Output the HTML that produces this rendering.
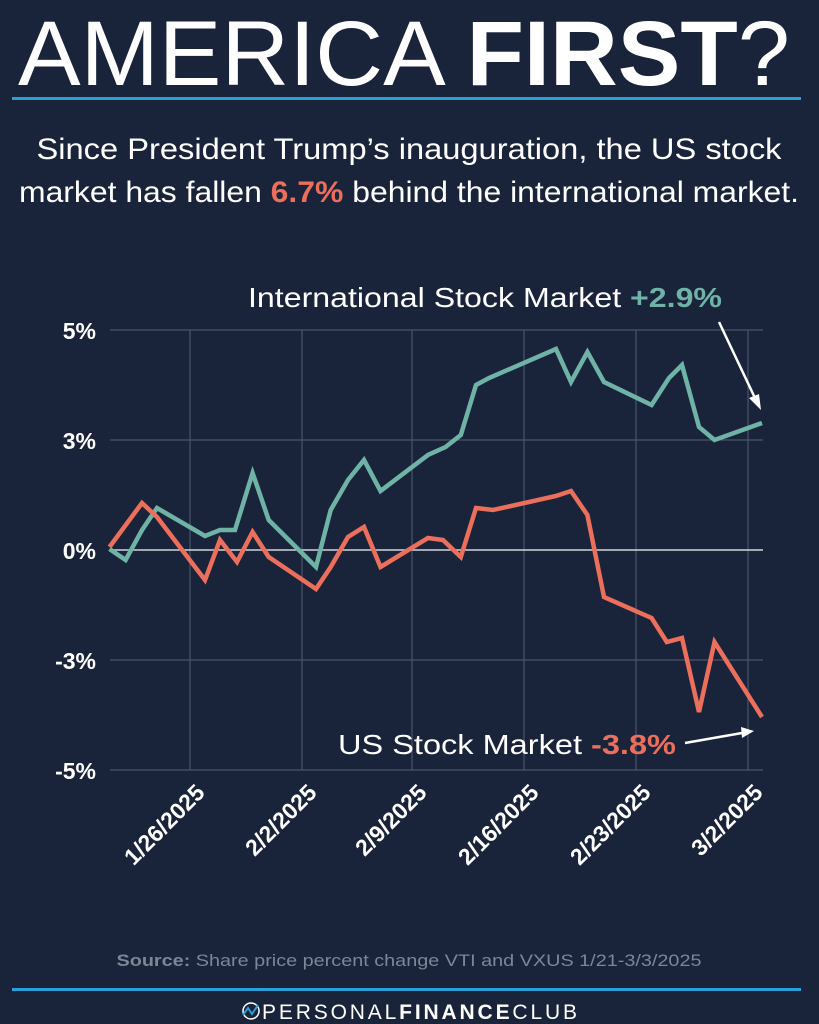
<!DOCTYPE html>
<html><head><meta charset="utf-8"><style>
html,body{margin:0;padding:0;background:#19233a;}
body{width:819px;height:1024px;overflow:hidden;position:relative;font-family:"Liberation Sans","DejaVu Sans",sans-serif;}
</style></head><body>
<svg width="819" height="1024" viewBox="0 0 819 1024" xmlns="http://www.w3.org/2000/svg" style="position:absolute;left:0;top:0">
<rect width="819" height="1024" fill="#19233a"/>
<text x="18" y="85" font-family="'Liberation Sans',sans-serif" font-size="92" fill="#fff" textLength="772" lengthAdjust="spacingAndGlyphs"><tspan style="font-weight:200">AMERICA </tspan><tspan font-weight="bold">FIRST</tspan><tspan>?</tspan></text>
<rect x="12" y="97" width="789" height="3" fill="#2d9fd8"/>
<text x="409" y="159" text-anchor="middle" font-size="30" fill="#fff" textLength="745" lengthAdjust="spacingAndGlyphs">Since President Trump’s inauguration, the US stock</text>
<text x="409" y="202" text-anchor="middle" font-size="30" fill="#fff" textLength="780" lengthAdjust="spacingAndGlyphs">market has fallen <tspan fill="#ec6f5c" font-weight="bold">6.7%</tspan> behind the international market.</text>

<g stroke="#4a5468" stroke-width="1.2">
<line x1="110" y1="330" x2="763" y2="330"/><line x1="110" y1="440" x2="763" y2="440"/>
<line x1="110" y1="660" x2="763" y2="660"/><line x1="110" y1="770" x2="763" y2="770"/>
<line x1="190" y1="330" x2="190" y2="770"/><line x1="302" y1="330" x2="302" y2="770"/>
<line x1="412" y1="330" x2="412" y2="770"/><line x1="524" y1="330" x2="524" y2="770"/>
<line x1="636" y1="330" x2="636" y2="770"/><line x1="748" y1="330" x2="748" y2="770"/>
</g>
<line x1="110" y1="550" x2="763" y2="550" stroke="#d0d4dc" stroke-width="1.5"/>
<g font-size="23" font-weight="bold" fill="#fff" text-anchor="end">
<text x="96" y="339">5%</text><text x="96" y="449">3%</text><text x="96" y="559">0%</text>
<text x="96" y="669">-3%</text><text x="96" y="779">-5%</text>
</g>
<g font-size="23" font-weight="bold" fill="#fff" text-anchor="end">
<text transform="translate(206,794) rotate(-45)">1/26/2025</text>
<text transform="translate(318,794) rotate(-45)">2/2/2025</text>
<text transform="translate(428,794) rotate(-45)">2/9/2025</text>
<text transform="translate(540,794) rotate(-45)">2/16/2025</text>
<text transform="translate(652,794) rotate(-45)">2/23/2025</text>
<text transform="translate(764,794) rotate(-45)">3/2/2025</text>
</g>
<polyline fill="none" stroke="#6fb3a6" stroke-width="4.5" points="109.5,549 125.6,560 142,530 157,508 205,536 220,530 235,530 252.6,473 268.7,520 316,567 330.7,510 348,480 364,460 380.5,491 428,455 445.6,447 460.8,435 476,385 489,378 556,349 571,382 587.4,352 604,382 651.6,405 669,378 682,365 699,427 714.5,440 762,423"/>
<polyline fill="none" stroke="#ec6f5c" stroke-width="4.5" points="109.5,547 142,503 157,517 205,580 220,540 237,562 252.6,532 268.7,557 316,589 330.7,567 348,537 364,527 380.5,567 428,538 443,540 460.8,557 476,508 493,510 556,496 571,491 587.4,515 604,597 651.6,618 666.8,642 682,638 699,712 714.5,642 762,717"/>

<text x="248" y="307" font-size="28" fill="#fff" textLength="474" lengthAdjust="spacingAndGlyphs">International Stock Market <tspan fill="#6fb3a6" font-weight="bold">+2.9%</tspan></text>
<line x1="719" y1="322" x2="755" y2="398" stroke="#fff" stroke-width="2.5"/>
<polygon points="761,410 749,398 759,394" fill="#fff"/>
<text x="338" y="754" font-size="28" fill="#fff" textLength="338" lengthAdjust="spacingAndGlyphs">US Stock Market <tspan fill="#ec6f5c" font-weight="bold">-3.8%</tspan></text>
<line x1="685" y1="743" x2="742" y2="733" stroke="#fff" stroke-width="2.5"/>
<polygon points="754,731 741,727 742,738" fill="#fff"/>

<text x="409" y="966" text-anchor="middle" font-size="17" fill="#7d8696" textLength="585" lengthAdjust="spacingAndGlyphs"><tspan font-weight="bold">Source:</tspan> Share price percent change VTI and VXUS 1/21-3/3/2025</text>
<rect x="12" y="988" width="789" height="3" fill="#2d9fd8"/>
<circle cx="251" cy="1011" r="8" fill="none" stroke="#fff" stroke-width="1.5"/>
<polyline points="243,1015 248,1008 252,1014 258,1005" fill="none" stroke="#2d9fd8" stroke-width="2"/>
<text x="262" y="1019" font-size="21" fill="#fff" textLength="318" lengthAdjust="spacing" letter-spacing="3">PERSONAL<tspan font-weight="bold">FINANCE</tspan>CLUB</text>
</svg>
</body></html>
